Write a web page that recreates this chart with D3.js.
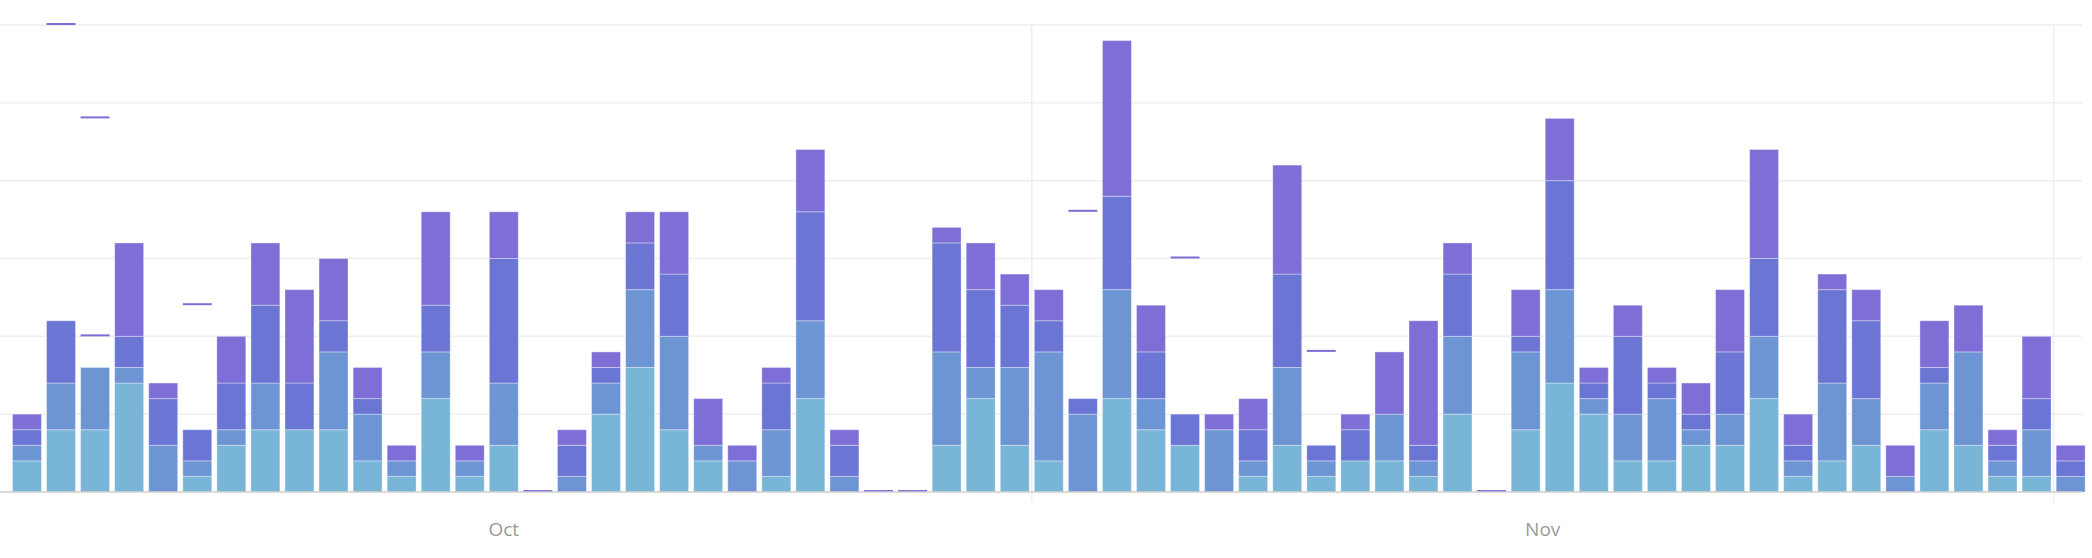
<!DOCTYPE html>
<html>
<head>
<meta charset="utf-8">
<script src="https://cdn.jsdelivr.net/npm/d3@7"></script>
<style>
  body { margin: 0; background: #fff; }
  text { font-family: "Open Sans", sans-serif; }
</style>
</head>
<body>
<script>
// one bar per day, Oct 2 .. Dec 1
const firstDay = new Date(2023, 9, 2);
const seriesNames = ["a", "b", "c", "d"];
const s1 = [2,4,4,7,0,1,3,4,4,4,2,1,6,1,3,0,0,5,8,4,2,0,1,6,0,0,0,3,6,3,2,0,6,4,3,0,1,3,1,2,2,1,5,0,4,7,5,2,2,3,3,6,1,2,3,0,4,3,1,1,0];
const s2 = [1,3,4,1,3,1,1,3,0,5,3,1,3,1,4,0,1,2,5,6,1,2,3,5,1,0,0,6,2,5,7,5,7,2,0,4,1,5,1,0,3,1,5,0,5,6,1,3,4,1,2,4,1,5,3,1,3,6,1,3,1];
const s3 = [1,4,0,2,3,2,3,5,3,2,1,0,3,0,8,0,2,1,3,4,0,0,3,7,2,0,0,7,5,4,2,1,6,3,2,0,2,6,1,2,0,1,4,0,1,7,1,5,1,1,4,5,1,6,5,0,1,0,1,2,1];
const s4 = [1,0,0,6,1,0,3,4,6,4,2,1,6,1,3,0,1,1,2,4,3,1,1,4,1,0,0,1,3,2,2,0,10,3,0,1,2,7,0,1,4,8,2,0,3,4,1,2,1,2,4,7,2,1,2,2,3,3,1,4,1];
const markers = [
  { day: 1, value: 30 }, { day: 2, value: 24 }, { day: 2, value: 10 },
  { day: 5, value: 12 }, { day: 31, value: 18 }, { day: 34, value: 15 },
  { day: 38, value: 9 }
];
const monthTicks = [new Date(2023, 10, 1), new Date(2023, 11, 1)];
const monthLabels = [
  { label: "Oct", date: new Date(2023, 9, 16, 12) },
  { label: "Nov", date: new Date(2023, 10, 16) }
];
const yTicks = [0, 5, 10, 15, 20, 25, 30];
const colors = ["#78b5d7", "#6e95d3", "#6a75d4", "#7e6fd6"];

const W = 2092, H = 558;
const margin = { top: 25, right: 10, bottom: 66, left: 0 };
const width = W - margin.left - margin.right, height = H - margin.top - margin.bottom;

const day = d3.timeDay.offset;
const rows = s1.map((v, i) => ({ date: day(firstDay, i), a: v, b: s2[i], c: s3[i], d: s4[i] }));

const x = d3.scaleTime()
    .domain([d3.timeHour.offset(firstDay, -7), d3.timeHour.offset(firstDay, 60 * 24 + 20)])
    .range([0, width]);
const dayW = x(day(firstDay, 1)) - x(firstDay);
const barW = dayW * 0.85;
const y = d3.scaleLinear().domain([0, 30]).range([height, 0]);

const svg = d3.select("body").append("svg")
    .attr("width", W).attr("height", H)
  .append("g")
    .attr("transform", `translate(${margin.left},${margin.top})`);

svg.selectAll(".hgrid").data(yTicks.slice(1)).enter().append("line")
    .attr("x1", 0).attr("x2", width)
    .attr("y1", d => y(d)).attr("y2", d => y(d))
    .attr("stroke", "#eeeeee").attr("stroke-width", 1.5);

svg.selectAll(".vgrid").data(monthTicks).enter().append("line")
    .attr("x1", d => x(d)).attr("x2", d => x(d))
    .attr("y1", 0).attr("y2", height + 10)
    .attr("stroke", "#eeeeee").attr("stroke-width", 1.5);

const stacked = d3.stack().keys(seriesNames)(rows);
const barX = d => x(d.data.date) + (dayW - barW) / 2;

svg.selectAll(".layer").data(stacked).enter().append("g")
    .attr("fill", (d, i) => colors[i])
  .selectAll("rect").data(d => d.filter(p => p[1] > p[0])).enter().append("rect")
    .attr("x", barX)
    .attr("width", barW)
    .attr("y", d => y(d[1]))
    .attr("height", d => y(d[0]) - y(d[1]))
    .attr("stroke", "#ffffff").attr("stroke-opacity", 0.35).attr("stroke-width", 1);

// zero days and floating markers drawn as short dashes
const zeroDays = rows.filter(r => r.a + r.b + r.c + r.d === 0).map(r => ({ date: r.date, value: 0 }));
const dashes = markers.map(m => ({ date: day(firstDay, m.day), value: m.value })).concat(zeroDays);
svg.selectAll(".dash").data(dashes).enter().append("line")
    .attr("x1", d => x(d.date) + (dayW - barW) / 2)
    .attr("x2", d => x(d.date) + (dayW + barW) / 2)
    .attr("y1", d => y(d.value) - 1).attr("y2", d => y(d.value) - 1)
    .attr("stroke", "#7e6fd6").attr("stroke-width", 2);

svg.append("line")
    .attr("x1", 0).attr("x2", width)
    .attr("y1", y(0)).attr("y2", y(0))
    .attr("stroke", "#cfcfcf").attr("stroke-width", 1.5);

svg.selectAll(".mlabel").data(monthLabels).enter().append("text")
    .attr("x", d => x(d.date))
    .attr("y", height + 44)
    .attr("text-anchor", "middle")
    .attr("fill", "#9a9a9a")
    .style("font-size", "19px")
    .text(d => d.label);
</script>
</body>
</html>
